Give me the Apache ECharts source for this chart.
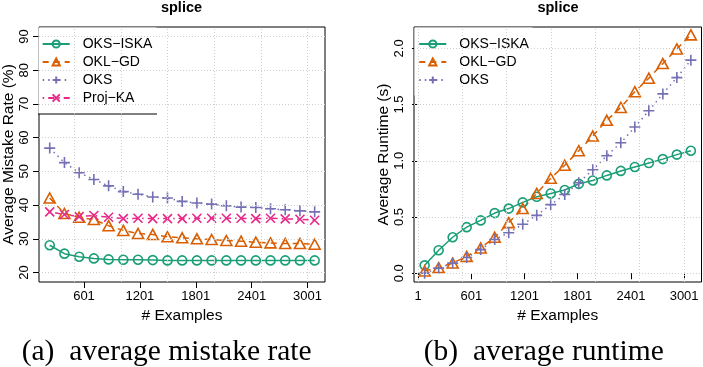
<!DOCTYPE html>
<html>
<head>
<meta charset="utf-8">
<script src="https://cdn.jsdelivr.net/npm/echarts@6/dist/echarts.min.js"></script>
<style>
  html, body { margin: 0; padding: 0; background: #fff; }
  #chart { width: 703px; height: 367px; }
</style>
</head>
<body>
<div id="chart"></div>
<script>
// x positions (# examples) of the evaluation points
const examples = [75, 233, 391, 549, 707, 865, 1023, 1181, 1339, 1497, 1655, 1813, 1971, 2129, 2287, 2445, 2603, 2761, 2919, 3077];

// (a) average mistake rate (%), starts from the 2nd point
const mistakeIska = [28.1, 25.6, 24.7, 24.2, 23.9, 23.8, 23.8, 23.7, 23.6, 23.6, 23.6, 23.6, 23.6, 23.6, 23.6, 23.6, 23.6, 23.6, 23.6];
const mistakeOklGd = [42.1, 37.5, 36.4, 35.7, 33.9, 32.5, 31.6, 31.3, 30.6, 30.3, 30.0, 29.8, 29.5, 29.3, 29.0, 28.8, 28.6, 28.6, 28.4];
const mistakeOks = [56.9, 52.6, 49.6, 47.6, 45.7, 44.0, 43.2, 42.4, 42.1, 41.1, 40.6, 40.3, 39.8, 39.4, 39.3, 38.9, 38.6, 38.3, 38.0];
const mistakeProj = [38.0, 37.2, 36.6, 36.9, 36.4, 36.0, 36.1, 36.0, 36.0, 36.0, 36.1, 36.1, 36.1, 36.1, 36.0, 36.1, 35.9, 35.8, 35.5];

// (b) average runtime (s)
const runIska = [0.07, 0.205, 0.32, 0.41, 0.47, 0.535, 0.575, 0.63, 0.68, 0.71, 0.74, 0.795, 0.825, 0.87, 0.91, 0.945, 0.98, 1.015, 1.055, 1.09];
const runOklGd = [0.02, 0.05, 0.09, 0.15, 0.225, 0.32, 0.45, 0.575, 0.71, 0.845, 0.96, 1.09, 1.22, 1.36, 1.475, 1.615, 1.735, 1.865, 1.995, 2.12];
const runOks = [0.0, 0.045, 0.09, 0.14, 0.21, 0.30, 0.36, 0.435, 0.515, 0.61, 0.70, 0.805, 0.92, 1.045, 1.16, 1.30, 1.445, 1.595, 1.74, 1.895];

// tick labels and grid positions
const xTicksA = [601, 1201, 1801, 2401, 3001];
const xTicksB = [1, 601, 1201, 1801, 2401, 3001];
const yTicksA = [20, 30, 40, 50, 60, 70, 80, 90];
const yTicksB = [0, 0.5, 1, 1.5, 2];
const xGridA = [500, 1000, 1500, 2000, 2500, 3000];
const xGridB = [0, 500, 1000, 1500, 2000, 2500, 3000];

const names = ['OKS\u2212ISKA', 'OKL\u2212GD', 'OKS', 'Proj\u2212KA'];
const colors = ['#1b9e77', '#d95f02', '#7570b3', '#e7298a'];

const SANS = 'Liberation Sans';

const symPlus = 'path://M5,0L5,10M0,5L10,5';
const symCross = 'path://M0,0L10,10M10,0L0,10';
const symbols = ['circle', 'triangle', symPlus, symCross];
const symSizes = [9, [11, 10], 11, 9];
const dashes = ['solid', [6, 5], [1.5, 4], [1.5, 4, 6, 4]];

function pairs(xs, ys) {
  return ys.map((y, i) => [xs[i], y]);
}

function lineSeries(k, gi, data) {
  return {
    name: names[k],
    type: 'line',
    xAxisIndex: gi,
    yAxisIndex: gi,
    data: data,
    symbol: symbols[k],
    symbolSize: symSizes[k],
    showAllSymbol: true,
    z: 3,
    lineStyle: { color: colors[k], width: 1.5, type: dashes[k] },
    itemStyle: { color: 'rgba(255,255,255,0)', borderColor: colors[k], borderWidth: 1.6 },
    emphasis: { disabled: true },
    animation: false
  };
}

function gridSeries(gi, xs, ys) {
  const lines = xs.map(v => ({ xAxis: v })).concat(ys.map(v => ({ yAxis: v })));
  return {
    type: 'line',
    xAxisIndex: gi,
    yAxisIndex: gi,
    data: [],
    z: 1,
    silent: true,
    markLine: {
      silent: true,
      symbol: ['none', 'none'],
      label: { show: false },
      lineStyle: { color: '#cfcfcf', width: 1, type: [1, 2] },
      emphasis: { disabled: true },
      animation: false,
      data: lines
    }
  };
}

function xAxisOpt(gi, min, max, ticks) {
  return {
    gridIndex: gi,
    type: 'value',
    min: min,
    max: max,
    axisLine: { show: false },
    splitLine: { show: false },
    axisTick: { show: true, customValues: ticks, length: 6, lineStyle: { color: '#000' } },
    axisLabel: { customValues: ticks, color: '#000', fontSize: 13, fontFamily: SANS, margin: 8, formatter: v => String(v) },
    name: '# Examples',
    nameLocation: 'middle',
    nameGap: 17,
    nameTextStyle: { color: '#000', fontSize: 15.5, fontFamily: SANS }
  };
}

function yAxisOpt(gi, min, max, ticks, title, fmt) {
  return {
    gridIndex: gi,
    type: 'value',
    min: min,
    max: max,
    axisLine: { show: false },
    splitLine: { show: false },
    axisTick: { show: true, customValues: ticks, length: 6, lineStyle: { color: '#000' } },
    axisLabel: { customValues: ticks, color: '#000', fontSize: 13, fontFamily: SANS, rotate: 90, margin: 8, formatter: fmt },
    name: title,
    nameLocation: 'middle',
    nameGap: 22,
    nameTextStyle: { color: '#000', fontSize: 15.5, fontFamily: SANS }
  };
}

function legendOpt(left, n) {
  return {
    orient: 'vertical',
    left: left,
    top: 37,
    itemWidth: 27,
    itemHeight: 9,
    itemGap: 4,
    padding: 0,
    data: names.slice(0, n),
    textStyle: { color: '#000', fontSize: 14, fontFamily: SANS, padding: [0, 0, 0, 8] },
    selectedMode: false
  };
}

const chart = echarts.init(document.getElementById('chart'), null, { renderer: 'canvas' });

const option = {
  backgroundColor: '#fff',
  animation: false,
  grid: [
    { left: 38, top: 27, width: 287, height: 255, show: true, borderColor: '#000', borderWidth: 1, backgroundColor: 'transparent' },
    { left: 414, top: 27, width: 287.5, height: 255, show: true, borderColor: '#000', borderWidth: 1, backgroundColor: 'transparent' }
  ],
  xAxis: [
    xAxisOpt(0, 118, 3188, xTicksA),
    xAxisOpt(1, -45, 3197, xTicksB)
  ],
  yAxis: [
    yAxisOpt(0, 17.2, 92.8, yTicksA, 'Average Mistake Rate (%)', v => String(v)),
    yAxisOpt(1, -0.078, 2.19, yTicksB, 'Average Runtime (s)', v => v.toFixed(1))
  ],
  legend: [legendOpt(41.7, 4), legendOpt(418.3, 3)],
  series: [
    gridSeries(0, xGridA, yTicksA),
    gridSeries(1, xGridB, yTicksB),
    lineSeries(0, 0, pairs(examples.slice(1), mistakeIska)),
    lineSeries(1, 0, pairs(examples.slice(1), mistakeOklGd)),
    lineSeries(2, 0, pairs(examples.slice(1), mistakeOks)),
    lineSeries(3, 0, pairs(examples.slice(1), mistakeProj)),
    lineSeries(0, 1, pairs(examples, runIska)),
    lineSeries(1, 1, pairs(examples, runOklGd)),
    lineSeries(2, 1, pairs(examples, runOks))
  ],
  graphic: [
    // legend background + bottom rule of the left legend box
    { type: 'rect', z: 3.5, shape: { x: 38.5, y: 27.5, width: 118, height: 86.5 }, style: { fill: '#fff' } },
    { type: 'line', z: 3.6, shape: { x1: 38, y1: 114, x2: 157, y2: 114 }, style: { stroke: '#000', lineWidth: 1 } },
    { type: 'rect', z: 3.5, shape: { x: 414.5, y: 27.5, width: 118, height: 68 }, style: { fill: '#fff' } },
    { type: 'text', x: 181.5, y: 7.5, style: { text: 'splice', font: 'bold 14.5px "Liberation Sans"', fill: '#000', align: 'center', verticalAlign: 'middle' } },
    { type: 'text', x: 558, y: 7.5, style: { text: 'splice', font: 'bold 14.5px "Liberation Sans"', fill: '#000', align: 'center', verticalAlign: 'middle' } },
    { type: 'text', x: 21.7, y: 352.5, style: { text: '(a)  average mistake rate', font: '29.5px "Liberation Serif"', fill: '#000', align: 'left', verticalAlign: 'middle' } },
    { type: 'text', x: 423.8, y: 352.5, style: { text: '(b)  average runtime', font: '29.5px "Liberation Serif"', fill: '#000', align: 'left', verticalAlign: 'middle' } }
  ]
};

chart.setOption(option);
</script>
</body>
</html>
